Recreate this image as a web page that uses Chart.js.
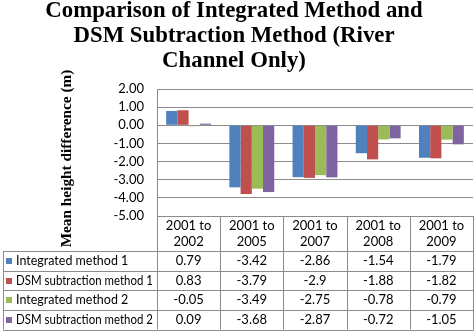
<!DOCTYPE html>
<html><head><meta charset="utf-8">
<script src="https://cdn.jsdelivr.net/npm/chart.js@4/dist/chart.umd.min.js"></script>
<style>html,body{margin:0;padding:0;background:#fff;overflow:hidden}#wrap{width:474px;height:332px;position:relative}</style>
</head><body><div id="wrap"><canvas id="c" width="474" height="332"></canvas></div>
<script>
const titleLines = ["Comparison of Integrated Method and", "DSM Subtraction Method (River", "Channel Only)"];
const yAxisTitle = "Mean height difference (m)";
const categories = [["2001 to", "2002"], ["2001 to", "2005"], ["2001 to", "2007"], ["2001 to", "2008"], ["2001 to", "2009"]];
const seriesNames = ["Integrated method 1", "DSM subtraction method 1", "Integrated method 2", "DSM subtraction method 2"];
const integrated1 = [0.79, -3.42, -2.86, -1.54, -1.79];
const dsm1 = [0.83, -3.79, -2.9, -1.88, -1.82];
const integrated2 = [-0.05, -3.49, -2.75, -0.78, -0.79];
const dsm2 = [0.09, -3.68, -2.87, -0.72, -1.05];
const yMin = -5, yMax = 2, yStep = 1;
const colors = ["#4F81BD", "#C0504D", "#9BBB59", "#8064A2"];
const seriesValues = [integrated1, dsm1, integrated2, dsm2];

const GRID = "#8c8c8c";
const TABLE_FONT = "13px Lato";

const tablePlugin = {
  id: "tablePlugin",
  afterDraw(chart) {
    const ctx = chart.ctx;
    const area = chart.chartArea;
    const xs = chart.scales.x;
    ctx.save();
    // title
    ctx.fillStyle = "#000";
    ctx.font = "bold 22.8px 'Liberation Serif'";
    ctx.textAlign = "center";
    ctx.textBaseline = "alphabetic";
    const tb = [17, 42, 67];
    titleLines.forEach((t, i) => ctx.fillText(t, 234, tb[i]));
    // y axis title
    ctx.save();
    ctx.translate(67.5, 158.5);
    ctx.rotate(-Math.PI / 2);
    ctx.font = "bold 15.3px 'Liberation Serif'";
    ctx.textBaseline = "middle";
    ctx.fillText(yAxisTitle, 0, 0);
    ctx.restore();

    // table geometry
    const n = categories.length;
    const left = area.left, right = area.right;
    const colW = (right - left) / n;
    const edges = [];
    for (let i = 0; i <= n; i++) edges.push(left + colW * i);
    const top = area.bottom;
    const rowLines = [251, 270.5, 290, 309.5, 329.5];
    const tableLeft = 3;

    ctx.strokeStyle = GRID;
    ctx.lineWidth = 1;
    ctx.beginPath();
    edges.forEach(x => {
      const px = Math.round(x) + 0.5;
      ctx.moveTo(px, top); ctx.lineTo(px, rowLines[rowLines.length - 1]);
    });
    ctx.moveTo(tableLeft + 0.5, rowLines[0]); ctx.lineTo(tableLeft + 0.5, rowLines[rowLines.length - 1]);
    rowLines.forEach(y => {
      const py = Math.round(y) + 0.5;
      ctx.moveTo(tableLeft, py); ctx.lineTo(Math.round(right) + 1, py);
    });
    ctx.stroke();

    ctx.fillStyle = "#000";
    ctx.font = TABLE_FONT;
    ctx.textAlign = "center";
    ctx.textBaseline = "middle";
    categories.forEach((lab, i) => {
      const cx = xs.getPixelForValue(i);
      ctx.fillText(lab[0], cx, 226);
      ctx.fillText(lab[1], cx, 241.7);
    });
    seriesNames.forEach((name, r) => {
      const cy = (rowLines[r] + rowLines[r + 1]) / 2 + 0.5;
      ctx.fillStyle = colors[r];
      ctx.fillRect(6, Math.round(cy) - 3, 6, 6);
      ctx.fillStyle = "#000";
      ctx.textAlign = "left";
      const w = ctx.measureText(name).width;
      ctx.fillText(name, 16, cy, Math.min(w * 0.96, 137));
      ctx.textAlign = "center";
      seriesValues[r].forEach((v, i) => {
        ctx.fillText(String(v), xs.getPixelForValue(i), cy);
      });
    });
    ctx.restore();
  }
};

new Chart(document.getElementById("c"), {
  type: "bar",
  data: {
    labels: categories.map(c => c.join(" ")),
    datasets: seriesNames.map((name, i) => ({
      label: name,
      data: seriesValues[i],
      backgroundColor: colors[i],
      borderWidth: 0,
      categoryPercentage: 0.71,
      barPercentage: 1.0
    }))
  },
  options: {
    responsive: false,
    animation: false,
    layout: { padding: { top: 89, bottom: 116, left: 0, right: 1 } },
    plugins: { legend: { display: false }, title: { display: false }, tooltip: { enabled: false } },
    scales: {
      x: { display: false },
      y: {
        min: yMin, max: yMax,
        afterFit(scale) { scale.width = 157; },
        ticks: {
          stepSize: yStep,
          autoSkip: false,
          padding: 13,
          color: "#000",
          font: { family: "Lato", size: 13 },
          callback: v => Number(v).toFixed(2)
        },
        grid: { color: GRID, drawTicks: false },
        border: { color: GRID }
      }
    }
  },
  plugins: [tablePlugin]
});
</script>
</body></html>
